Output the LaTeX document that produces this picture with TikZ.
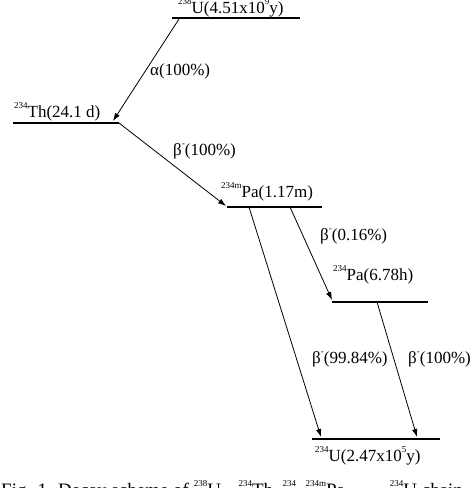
\documentclass[tikz,border=0pt]{standalone}
\usepackage{fontspec}
\setmainfont{Liberation Serif}
\usetikzlibrary{arrows.meta}
\newcommand{\up}[1]{\raisebox{0.5em}{\fontsize{9}{9}\selectfont #1}}
\newcommand{\nuc}[2]{\up{#1}#2}
\newcommand{\bminus}{β\up{-}}
\begin{document}
\begin{tikzpicture}[x=1pt, y=-1pt,
    level/.style={line width=2.5pt},
    decay/.style={-{Latex[length=8pt,width=5.5pt]}, line width=0.8pt},
    lbl/.style={anchor=base west, inner sep=0pt, font=\fontsize{17}{20}\selectfont}]
  \clip (0,0) rectangle (474,488);

  % Level ends
  \coordinate (U8-l) at (172,18);   \coordinate (U8-r) at (300,18);
  \coordinate (Th-l) at (13,123);   \coordinate (Th-r) at (119,123);
  \coordinate (Pam-l) at (227,207); \coordinate (Pam-r) at (322,207);
  \coordinate (Pa-l) at (332,302);  \coordinate (Pa-r) at (428,302);
  \coordinate (U4-l) at (312,439);  \coordinate (U4-r) at (440,439);

  % Draw the levels
  \draw[level] (U8-l) -- (U8-r);
  \draw[level] (Th-l) -- (Th-r);
  \draw[level] (Pam-l) -- (Pam-r);
  \draw[level] (Pa-l) -- (Pa-r);
  \draw[level] (U4-l) -- (U4-r);

  % Level labels
  \node[lbl] (u8) at (178,13) {\nuc{238}{U}(4.51x10\up{9}y)};
  \node[lbl] (th) at (14,117) {\nuc{234}{Th}(24.1 d)};
  \node[lbl] (pam) at (221,197) {\nuc{234m}{Pa}(1.17m)};
  \node[lbl] (pa) at (333,280) {\nuc{234}{Pa}(6.78h)};
  \node[lbl] (u4) at (315,461) {\nuc{234}{U}(2.47x10\up{5}y)};

  % Decay arrows
  \coordinate (a-s) at (179,19);  \coordinate (a-e) at (113,121);
  \coordinate (b1-s) at (119,123); \coordinate (b1-e) at (226,206);
  \coordinate (b2-s) at (249,207); \coordinate (b2-e) at (321,437);
  \coordinate (b3-s) at (290,207); \coordinate (b3-e) at (332,300);
  \coordinate (b4-s) at (377,302); \coordinate (b4-e) at (417,437);
  \draw[decay] (a-s) -- (a-e);
  \draw[decay] (b1-s) -- (b1-e);
  \draw[decay] (b2-s) -- (b2-e);
  \draw[decay] (b3-s) -- (b3-e);
  \draw[decay] (b4-s) -- (b4-e);

  % Branch labels
  \node[lbl] (ra) at (150,75) {α(100\%)};
  \node[lbl] (r1) at (173,155) {\bminus(100\%)};
  \node[lbl] (r3) at (320,240) {\bminus(0.16\%)};
  \node[lbl] (r2) at (312,363) {\bminus(99.84\%)};
  \node[lbl] (r4) at (408,363) {\bminus(100\%)};

  % Caption, cut by the page edge
  \node[anchor=base west, inner sep=0pt, font=\fontsize{19}{22}\selectfont] (cap) at (1,496)
    {Fig. 1. Decay scheme of \nuc{238}{U}, \hspace{8pt}\nuc{234}{Th}, \up{234}, \nuc{234m}{Pa},\hspace{40pt}\nuc{234}{U} chain};
\end{tikzpicture}
\end{document}
